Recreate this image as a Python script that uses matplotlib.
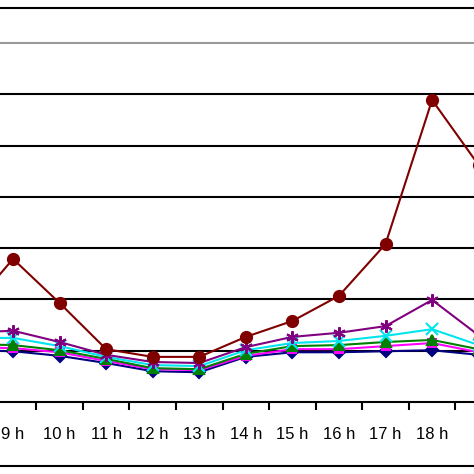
import numpy as np
import matplotlib.pyplot as plt

hours = ["8 h", "9 h", "10 h", "11 h", "12 h", "13 h", "14 h", "15 h", "16 h", "17 h", "18 h", "19 h"]

maroon = [1.73, 2.79, 1.93, 1.03, 0.88, 0.88, 1.27, 1.58, 2.07, 3.08, 5.89, 4.62]
purple = [1.35, 1.39, 1.17, 0.92, 0.78, 0.76, 1.07, 1.27, 1.35, 1.48, 1.99, 1.30]
cyan = [1.25, 1.25, 1.09, 0.88, 0.72, 0.70, 1.01, 1.15, 1.19, 1.29, 1.42, 1.11]
green = [1.13, 1.11, 1.01, 0.84, 0.66, 0.64, 0.94, 1.09, 1.11, 1.17, 1.21, 1.03]
magenta = [1.07, 1.05, 0.97, 0.80, 0.64, 0.62, 0.90, 1.03, 1.03, 1.09, 1.15, 0.97]
navy = [1.01, 0.99, 0.90, 0.76, 0.60, 0.58, 0.88, 0.97, 0.97, 0.99, 1.01, 0.92]

series = [
    (navy, "#000080", "D", 6),
    (magenta, "#ff00ff", "s", 6),
    (green, "#008000", "^", 7),
    (cyan, "#00e5ee", "x", 8),
    (purple, "#800080", (6, 2, 0), 9),
    (maroon, "#800000", "o", 8),
]

fig = plt.figure(figsize=(4.74, 4.74), dpi=100)
ax = fig.add_axes([0, (474 - 402) / 474, 1, 402 / 474])
x = np.arange(len(hours)) - 1
for vals, col, mk, ms in series:
    ax.plot(x, vals, color=col, marker=mk, markersize=ms, lw=1.5,
            markeredgewidth=1.5)

for v in range(1, 7):
    ax.axhline(v, color="black", lw=1.5, zorder=0)
ax.axhline(7, color="#999999", lw=1.5, zorder=0)
ax.axhline(7.68, color="black", lw=1.5, zorder=0)

ax.set_xticks(np.arange(-1.5, 11, 1))
ax.set_xticklabels([])
ax.set_xticks(x, minor=True)
ax.set_xticklabels(hours, minor=True, fontsize=12, family="Liberation Sans")
ax.tick_params(axis="x", which="major", direction="out", length=6, width=1.5)
ax.tick_params(axis="x", which="minor", length=0, pad=18)
ax.set_yticks([])
ax.set_xlim(-0.28, 9.9)
ax.set_ylim(0, 7.84)
for s in ["top", "left", "right"]:
    ax.spines[s].set_visible(False)
ax.spines["bottom"].set_linewidth(1.5)

fig.add_artist(plt.Line2D([0, 1], [8 / 474, 8 / 474], color="black", lw=1.5))
fig.savefig("out.png", dpi=100)
